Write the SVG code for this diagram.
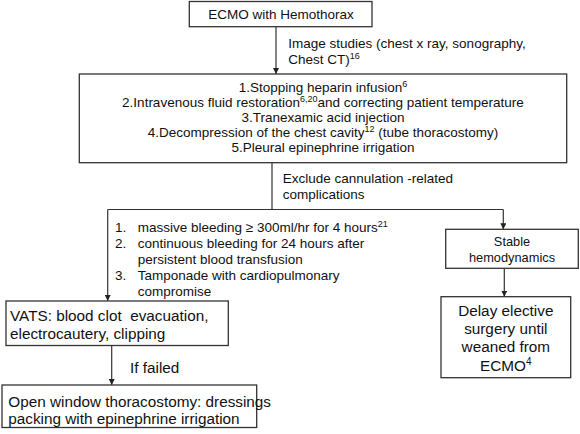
<svg xmlns="http://www.w3.org/2000/svg" width="580" height="434" viewBox="0 0 580 434">
<defs>
<marker id="ah" viewBox="0 0 8 8" refX="8" refY="4" markerWidth="6" markerHeight="6" markerUnits="userSpaceOnUse" orient="auto">
<path d="M0,0 L8,4 L0,8 z" fill="#222"/>
</marker>
<style>
text{font-family:"Liberation Sans",Arial,sans-serif;fill:#111;white-space:pre}
.b{fill:#fff;stroke:#333;stroke-width:1.3}
.t{font-size:13.5px}
.m{font-size:13.5px;text-anchor:middle}
.l{font-size:15.3px}
.lm{font-size:15.3px;text-anchor:middle}
.s{font-size:12.8px;text-anchor:middle}
.c{fill:none;stroke:#333;stroke-width:1.2}
.a{marker-end:url(#ah)}
</style>
</defs>
<rect width="580" height="434" fill="#fff"/>
<g id="connectors">
<line class="c a" x1="276" y1="27" x2="276" y2="74"/>
<polyline class="c" points="272,163 272,209.5"/>
<polyline class="c a" points="107.7,209.5 107.7,301"/>
<polyline class="c" points="107.7,209.5 503.3,209.5"/>
<polyline class="c a" points="503.3,209.5 503.3,229.3"/>
<line class="c a" x1="504.3" y1="268.3" x2="504.3" y2="296.7"/>
<line class="c a" x1="111.7" y1="345.5" x2="111.7" y2="385"/>
</g>
<g id="label-image">
<text class="t" x="288.3" y="48.2">Image studies (chest x ray, sonography,</text>
<text class="t" x="288.3" y="64">Chest CT)<tspan font-size="9" dy="-5">16</tspan></text>
</g>
<g id="label-exclude">
<text class="t" x="282.7" y="183.2">Exclude cannulation -related</text>
<text class="t" x="282.7" y="199.2">complications</text>
</g>
<g id="label-criteria">
<text class="t" x="115" y="231.5">1.</text>
<text class="t" x="137.7" y="231.5">massive bleeding ≥ 300ml/hr for 4 hours<tspan font-size="9" dy="-5">21</tspan></text>
<text class="t" x="115" y="247.7">2.</text>
<text class="t" x="137.7" y="247.7">continuous bleeding for 24 hours after</text>
<text class="t" x="137.7" y="263.9">persistent blood transfusion</text>
<text class="t" x="115" y="280.1">3.</text>
<text class="t" x="137.7" y="280.1">Tamponade with cardiopulmonary</text>
<text class="t" x="137.7" y="296.3">compromise</text>
</g>
<g id="label-failed">
<text class="l" x="130" y="372.8" font-size="16">If failed</text>
</g>
<g id="node-ecmo">
<rect class="b" x="189.3" y="1.5" width="182.7" height="25.2"/>
<text class="m" x="281" y="19">ECMO with Hemothorax</text>
</g>
<g id="node-initial">
<rect class="b" x="79.3" y="74" width="487.4" height="88.7"/>
<text class="m" x="323" y="92.2">1.Stopping heparin infusion<tspan font-size="9" dy="-5">6</tspan></text>
<text class="m" x="323" y="107.2">2.Intravenous fluid restoration<tspan font-size="9" dy="-5">6,20</tspan><tspan dy="5">and correcting patient temperature</tspan></text>
<text class="m" x="323" y="122.2">3.Tranexamic acid injection</text>
<text class="m" x="323" y="137.2">4.Decompression of the chest cavity<tspan font-size="9" dy="-5">12</tspan><tspan dy="5"> (tube thoracostomy)</tspan></text>
<text class="m" x="323" y="152.2">5.Pleural epinephrine irrigation</text>
</g>
<g id="node-stable">
<rect class="b" x="445.7" y="229.3" width="132.6" height="39"/>
<text class="s" x="512" y="245.6">Stable</text>
<text class="s" x="512" y="262.3">hemodynamics</text>
</g>
<g id="node-delay">
<rect class="b" x="441" y="296.7" width="129.7" height="81"/>
<text class="lm" x="505.8" y="315.5">Delay elective</text>
<text class="lm" x="505.8" y="333.8">surgery until</text>
<text class="lm" x="505.8" y="352.2">weaned from</text>
<text class="lm" x="505.8" y="370.5">ECMO<tspan font-size="10" dy="-6">4</tspan></text>
</g>
<g id="node-vats">
<rect class="b" x="6" y="301" width="222.3" height="44.5"/>
<text class="l" x="10" y="320.5">VATS: blood clot  evacuation,</text>
<text class="l" x="10" y="338.8">electrocautery, clipping</text>
</g>
<g id="node-open">
<rect class="b" x="2" y="385" width="254.7" height="42.5"/>
<text class="l" x="8.3" y="407.2">Open window thoracostomy: dressings</text>
<text class="l" x="8.3" y="423.8">packing with epinephrine irrigation</text>
</g>
</svg>
